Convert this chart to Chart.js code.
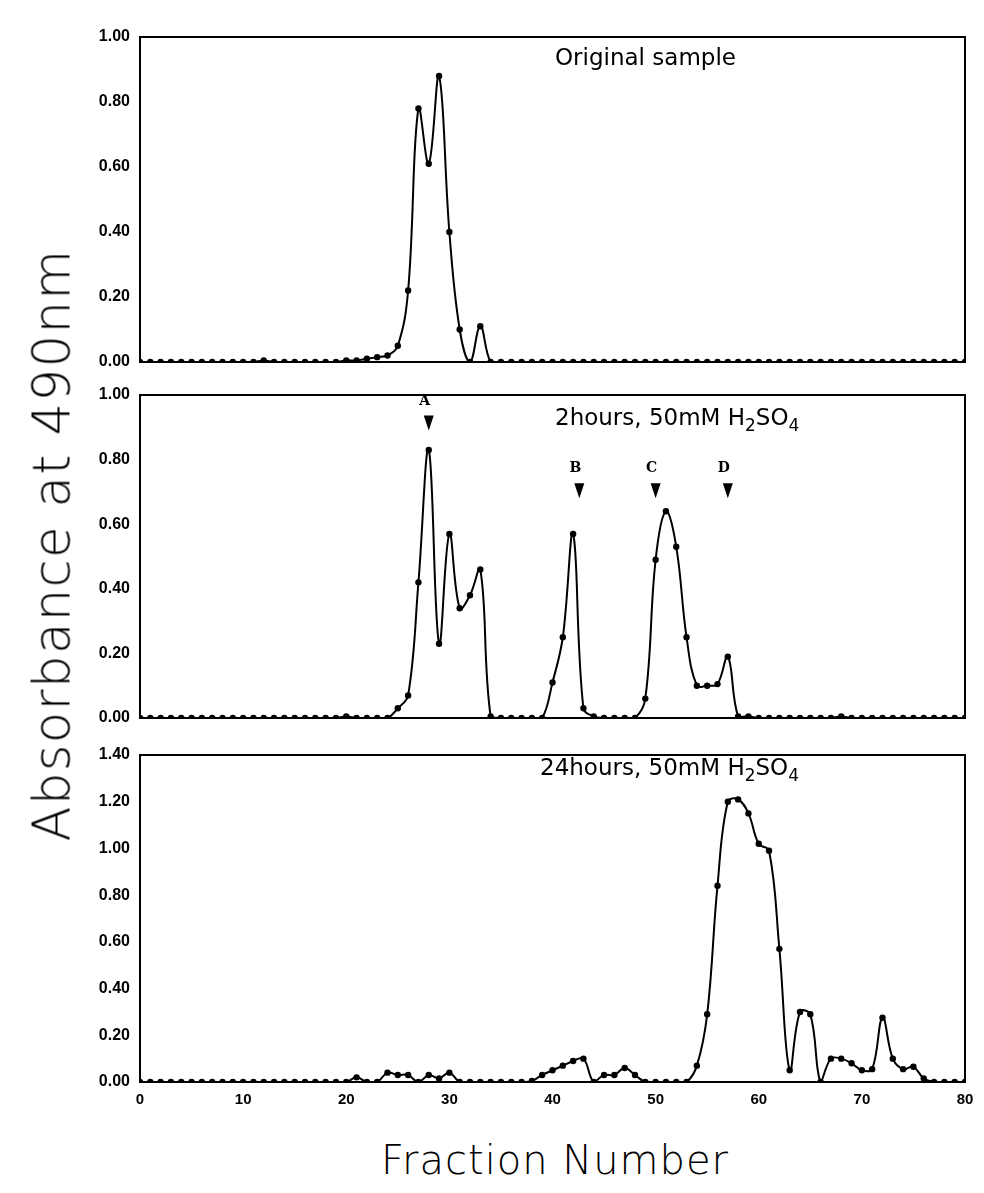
<!DOCTYPE html>
<html>
<head>
<meta charset="utf-8">
<script src="https://cdn.jsdelivr.net/npm/chart.js@4"></script>
<style>
  body { margin: 0; background: #fff; width: 984px; height: 1193px; position: relative; overflow: hidden; }
  canvas { position: absolute; left: 0; }
  .ylab { position: absolute; left: 52px; top: 545px; transform: translate(-50%, -50%) rotate(-90deg);
          font: 300 51px "DejaVu Sans", sans-serif; white-space: nowrap; letter-spacing: 1.5px; }
  .xlab { position: absolute; left: 555px; top: 1160px; transform: translate(-50%, -50%);
          font: 300 40px "DejaVu Sans", sans-serif; white-space: nowrap; letter-spacing: 1px; }
</style>
</head>
<body>
<canvas id="c1" width="984" height="360" style="top:20px"></canvas>
<canvas id="c2" width="984" height="356" style="top:380px"></canvas>
<canvas id="c3" width="984" height="380" style="top:740px"></canvas>
<div class="ylab">Absorbance at 490nm</div>
<div class="xlab">Fraction Number</div>
<script>
const fractions = Array.from({ length: 81 }, (_, i) => i);

const original = [
  0, 0, 0, 0, 0, 0, 0, 0, 0, 0,
  0, 0, 0.005, 0, 0, 0, 0, 0, 0, 0,
  0.005, 0.005, 0.01, 0.015, 0.02, 0.05, 0.22, 0.78, 0.61, 0.88,
  0.40, 0.10, 0, 0.11, 0, 0, 0, 0, 0, 0,
  0, 0, 0, 0, 0, 0, 0, 0, 0, 0,
  0, 0, 0, 0, 0, 0, 0, 0, 0, 0,
  0, 0, 0, 0, 0, 0, 0, 0, 0, 0,
  0, 0, 0, 0, 0, 0, 0, 0, 0, 0,
  0
];

const twoHours = [
  0, 0, 0, 0, 0, 0, 0, 0, 0, 0,
  0, 0, 0, 0, 0, 0, 0, 0, 0, 0,
  0.005, 0, 0, 0, 0, 0.03, 0.07, 0.42, 0.83, 0.23,
  0.57, 0.34, 0.38, 0.46, 0.005, 0, 0, 0, 0, 0,
  0.11, 0.25, 0.57, 0.03, 0.005, 0, 0, 0, 0, 0.06,
  0.49, 0.64, 0.53, 0.25, 0.10, 0.10, 0.105, 0.19, 0.005, 0.005,
  0, 0, 0, 0, 0, 0, 0, 0, 0.005, 0,
  0, 0, 0, 0, 0, 0, 0, 0, 0, 0,
  0
];

const dayLong = [
  0, 0, 0, 0, 0, 0, 0, 0, 0, 0,
  0, 0, 0, 0, 0, 0, 0, 0, 0, 0,
  0, 0.02, 0, 0, 0.04, 0.03, 0.03, 0, 0.03, 0.015,
  0.04, 0, 0, 0, 0, 0, 0, 0, 0.005, 0.03,
  0.05, 0.07, 0.09, 0.10, 0, 0.03, 0.03, 0.06, 0.03, 0,
  0, 0, 0, 0, 0.07, 0.29, 0.84, 1.20, 1.21, 1.15,
  1.02, 0.99, 0.57, 0.05, 0.30, 0.29, 0, 0.10, 0.10, 0.08,
  0.05, 0.055, 0.275, 0.10, 0.055, 0.065, 0.015, 0, 0, 0,
  0
];

const markers = [
  { label: "A", x: 28, y: 0.89 },
  { label: "B", x: 42.6, y: 0.68 },
  { label: "C", x: 50, y: 0.68 },
  { label: "D", x: 57, y: 0.68 }
];

const panelTitles = [
  ["Original sample"],
  ["2hours, 50mM H", "2", "SO", "4"],
  ["24hours, 50mM H", "2", "SO", "4"]
];

const titlePos = [{ x: 555, y: 45 }, { x: 555, y: 45 }, { x: 540, y: 35 }];

const framePlugin = {
  id: "frame",
  afterDraw(chart, args, opts) {
    const { ctx, chartArea: a } = chart;
    ctx.save();
    ctx.strokeStyle = "#000";
    ctx.lineWidth = 2;
    ctx.strokeRect(a.left, a.top, a.right - a.left, a.bottom - a.top);

    // title with subscripts
    const parts = panelTitles[opts.idx];
    const pos = titlePos[opts.idx];
    let x = pos.x;
    ctx.fillStyle = "#000";
    ctx.textBaseline = "alphabetic";
    parts.forEach((p, i) => {
      const sub = i % 2 === 1;
      ctx.font = (sub ? "17px" : "23px") + ' "DejaVu Sans", sans-serif';
      ctx.fillText(p, x, pos.y + (sub ? 6 : 0));
      x += ctx.measureText(p).width;
    });

    if (opts.idx === 1) {
      const xs = chart.scales.x, ys = chart.scales.y;
      markers.forEach(m => {
        const px = xs.getPixelForValue(m.x);
        const py = ys.getPixelForValue(m.y);
        ctx.beginPath();
        ctx.moveTo(px, py);
        ctx.lineTo(px - 5, py - 15);
        ctx.lineTo(px + 5, py - 15);
        ctx.closePath();
        ctx.fill();
        ctx.font = 'bold 14px "DejaVu Serif", serif';
        ctx.textAlign = "center";
        ctx.fillText(m.label, px - 4, py - 26);
      });
    }
    ctx.restore();
  }
};

function makePanel(id, idx, values, yMax, showX, padTop) {
  new Chart(document.getElementById(id), {
    type: "line",
    data: {
      datasets: [{
        data: fractions.map((f, i) => ({ x: f, y: values[i] })),
        borderColor: "#000",
        backgroundColor: "#000",
        borderWidth: 2,
        pointRadius: 3.2,
        pointBorderWidth: 0,
        tension: 0.4
      }]
    },
    options: {
      responsive: false,
      animation: false,
      layout: { padding: { top: padTop, right: 19, left: 0, bottom: 0 } },
      plugins: { legend: { display: false }, tooltip: { enabled: false }, frame: { idx } },
      scales: {
        x: {
          type: "linear", min: 0, max: 80,
          border: { display: false },
          grid: { display: false, drawTicks: true, tickLength: 6, color: "#000" },
          ticks: {
            stepSize: 10, display: true, color: "#000",
            font: { family: "Arial", weight: "bold", size: 15 },
            callback: v => showX ? v : ""
          },
          afterFit(s) { s.height = showX ? 38 : 18; }
        },
        y: {
          min: 0, max: yMax,
          border: { display: false },
          grid: { display: false, drawTicks: true, tickLength: 6 },
          ticks: {
            stepSize: 0.2, color: "#000", padding: 4,
            font: { family: "Arial", weight: "bold", size: 16 },
            callback: v => v.toFixed(2)
          },
          afterFit(s) { s.width = 140; }
        }
      }
    },
    plugins: [framePlugin]
  });
}

makePanel("c1", 0, original, 1.0, false, 17);
makePanel("c2", 1, twoHours, 1.0, false, 15);
makePanel("c3", 2, dayLong, 1.4, true, 15);
</script>
</body>
</html>
